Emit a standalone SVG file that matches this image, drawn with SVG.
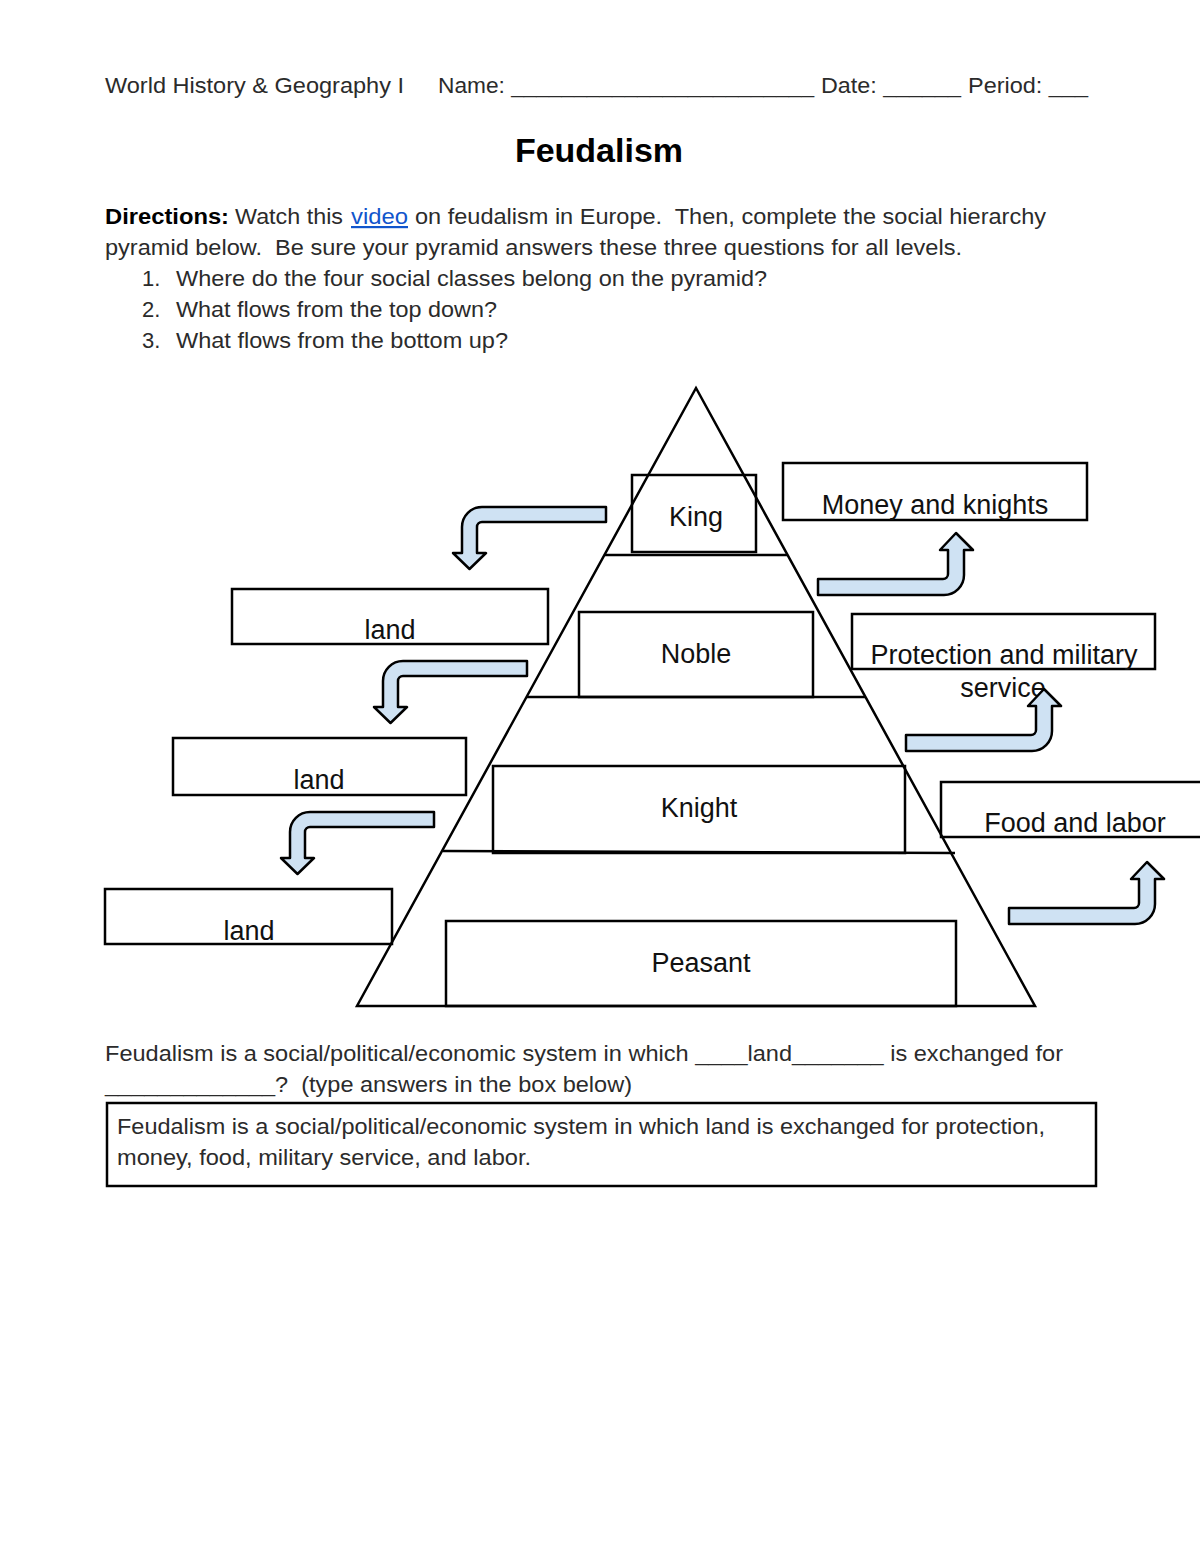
<svg xmlns="http://www.w3.org/2000/svg" width="1200" height="1553" viewBox="0 0 1200 1553">
<style>
.t{font-family:"Liberation Sans",Arial,sans-serif;font-size:22px;fill:#2b2b2b;white-space:pre}
.b{font-weight:bold}
.lbl{font-family:"Liberation Sans",Arial,sans-serif;font-size:27px;fill:#111;text-anchor:middle}
.box{fill:none;stroke:#000;stroke-width:2.5}
.py{fill:none;stroke:#000;stroke-width:2.5;stroke-linejoin:miter}
.arr{fill:#cfe2f3;stroke:#000;stroke-width:2.5;stroke-linejoin:round}
</style>
<defs>
<path id="arrDown" d="M144,0 H20 A20,20 0 0 0 0,20 V46 H-9 L7.5,62 L24,46 H15 V20 A5,5 0 0 1 20,15 H144 Z"/>
<path id="arrUp" d="M-146,-16 H-21 A5,5 0 0 0 -16,-21 V-45 H-24 L-8,-62 L9,-45 H0 V-20 A20,20 0 0 1 -20,0 H-146 Z"/>
</defs>
<rect width="1200" height="1553" fill="#fff"/>

<g id="header">
<text class="t" x="105" y="93" textLength="299" lengthAdjust="spacingAndGlyphs">World History &amp; Geography I</text>
<text class="t" x="438" y="93" textLength="376" lengthAdjust="spacingAndGlyphs">Name: ________________________</text>
<text class="t" x="821" y="93" textLength="140" lengthAdjust="spacingAndGlyphs">Date: ______</text>
<text class="t" x="968" y="93" textLength="120" lengthAdjust="spacingAndGlyphs">Period: ___</text>
<text class="t b" x="599" y="162" style="font-size:34px;fill:#000" text-anchor="middle">Feudalism</text>
<text class="t b" x="105" y="224" style="fill:#000" textLength="124" lengthAdjust="spacingAndGlyphs">Directions:</text>
<text class="t" x="235" y="224" textLength="108" lengthAdjust="spacingAndGlyphs">Watch this</text>
<text class="t" x="351" y="224" style="fill:#1155cc;text-decoration:underline" textLength="57" lengthAdjust="spacingAndGlyphs">video</text>
<text class="t" x="415" y="224" textLength="631" lengthAdjust="spacingAndGlyphs">on feudalism in Europe.  Then, complete the social hierarchy</text>
<text class="t" x="105" y="255" textLength="857" lengthAdjust="spacingAndGlyphs">pyramid below.  Be sure your pyramid answers these three questions for all levels.</text>
<text class="t" x="142" y="286">1.</text>
<text class="t" x="176" y="286" textLength="591" lengthAdjust="spacingAndGlyphs">Where do the four social classes belong on the pyramid?</text>
<text class="t" x="142" y="317">2.</text>
<text class="t" x="176" y="317" textLength="321" lengthAdjust="spacingAndGlyphs">What flows from the top down?</text>
<text class="t" x="142" y="348">3.</text>
<text class="t" x="176" y="348" textLength="332" lengthAdjust="spacingAndGlyphs">What flows from the bottom up?</text>
</g>

<g id="pyramid">
<path class="py" d="M696,388 L357,1006 H1035 Z"/>
<line class="py" x1="605" y1="555" x2="787" y2="555"/>
<line class="py" x1="527" y1="697" x2="865" y2="697"/>
<line class="py" x1="443" y1="851" x2="955" y2="853"/>
</g>

<g id="king"><rect class="box" x="632" y="475" width="124" height="77"/><text class="lbl" x="696" y="526">King</text></g>
<g id="noble"><rect class="box" x="579" y="612" width="234" height="85"/><text class="lbl" x="696" y="663">Noble</text></g>
<g id="knight"><rect class="box" x="493" y="766" width="412" height="87"/><text class="lbl" x="699" y="817">Knight</text></g>
<g id="peasant"><rect class="box" x="446" y="921" width="510" height="85"/><text class="lbl" x="701" y="972">Peasant</text></g>

<g id="money"><rect class="box" x="783" y="463" width="304" height="57"/><text class="lbl" x="935" y="514">Money and knights</text></g>
<g id="protection"><rect class="box" x="852" y="614" width="303" height="55"/><text class="lbl" x="1004" y="664">Protection and military</text><text class="lbl" x="1003" y="697">service</text></g>
<g id="food"><rect class="box" x="941" y="782" width="270" height="55"/><text class="lbl" x="1075" y="832">Food and labor</text></g>

<g id="land1"><rect class="box" x="232" y="589" width="316" height="55"/><text class="lbl" x="390" y="639">land</text></g>
<g id="land2"><rect class="box" x="173" y="738" width="293" height="57"/><text class="lbl" x="319" y="789">land</text></g>
<g id="land3"><rect class="box" x="105" y="889" width="287" height="55"/><text class="lbl" x="249" y="940">land</text></g>

<g id="connectors">
<use href="#arrDown" class="arr" transform="translate(462,507)"/>
<use href="#arrDown" class="arr" transform="translate(383,661)"/>
<use href="#arrDown" class="arr" transform="translate(290,812)"/>
<use href="#arrUp" class="arr" transform="translate(964,595)"/>
<use href="#arrUp" class="arr" transform="translate(1052,751)"/>
<use href="#arrUp" class="arr" transform="translate(1155,924)"/>
</g>

<g id="footer">
<text class="t" x="105" y="1061" textLength="958" lengthAdjust="spacingAndGlyphs">Feudalism is a social/political/economic system in which ____land_______ is exchanged for</text>
<text class="t" x="105" y="1092" textLength="527" lengthAdjust="spacingAndGlyphs">_____________?  (type answers in the box below)</text>
<rect class="box" x="107" y="1103" width="989" height="83"/>
<text class="t" x="117" y="1134" textLength="928" lengthAdjust="spacingAndGlyphs">Feudalism is a social/political/economic system in which land is exchanged for protection,</text>
<text class="t" x="117" y="1165" textLength="414" lengthAdjust="spacingAndGlyphs">money, food, military service, and labor.</text>
</g>
</svg>
